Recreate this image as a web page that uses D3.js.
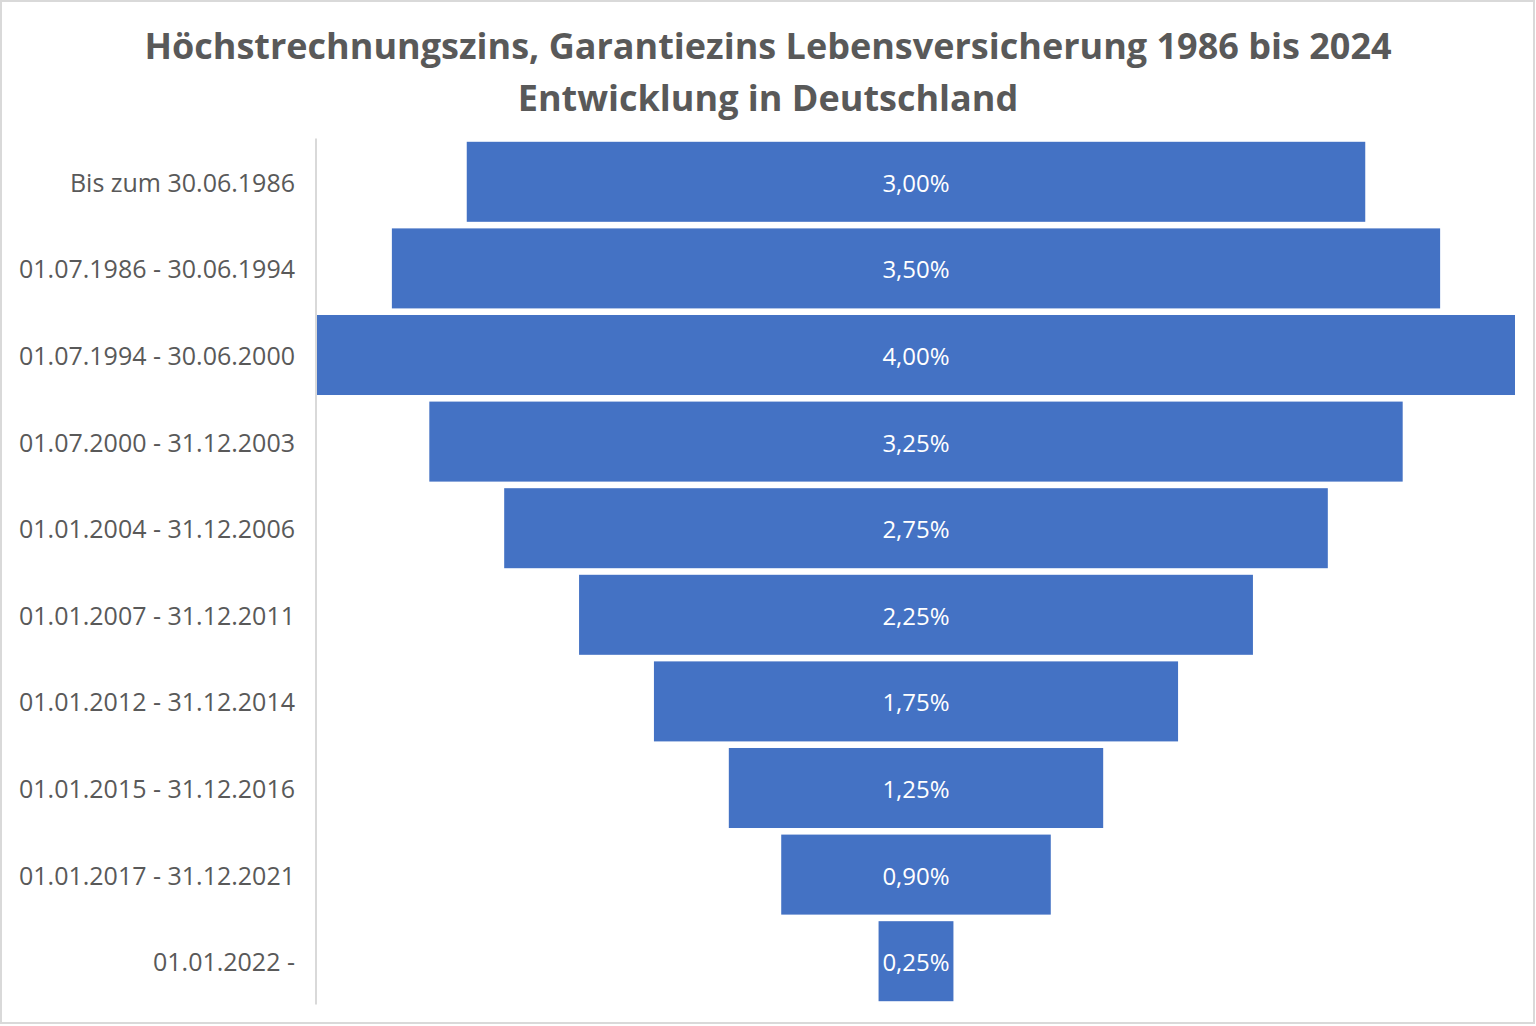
<!DOCTYPE html>
<html>
<head>
<meta charset="utf-8">
<script src="https://cdn.jsdelivr.net/npm/d3@7"></script>
<style>
  body { margin: 0; background: #fff; }
  text { font-family: "Open Sans", "Noto Sans", sans-serif; }
</style>
</head>
<body>
<div id="chart"></div>
<script>
const periods = [
  'Bis zum 30.06.1986',
  '01.07.1986 - 30.06.1994',
  '01.07.1994 - 30.06.2000',
  '01.07.2000 - 31.12.2003',
  '01.01.2004 - 31.12.2006',
  '01.01.2007 - 31.12.2011',
  '01.01.2012 - 31.12.2014',
  '01.01.2015 - 31.12.2016',
  '01.01.2017 - 31.12.2021',
  '01.01.2022 -'
];
const rates = [3.00, 3.50, 4.00, 3.25, 2.75, 2.25, 1.75, 1.25, 0.90, 0.25];
const titleLines = [
  'Höchstrechnungszins, Garantiezins Lebensversicherung 1986 bis 2024',
  'Entwicklung in Deutschland'
];

const W = 1536, H = 1026;
const plot = {left: 317, right: 1515, top: 138.5, bottom: 1004.5};

const svg = d3.select('#chart')
  .append('svg')
  .attr('width', W)
  .attr('height', H);

// outer frame
svg.append('rect')
  .attr('x', 1).attr('y', 1)
  .attr('width', W - 3).attr('height', H - 4)
  .attr('fill', '#fff')
  .attr('stroke', '#d9d9d9')
  .attr('stroke-width', 2);

const y = d3.scaleBand()
  .domain(periods)
  .range([plot.top, plot.bottom])
  .paddingInner(0.076)
  .paddingOuter(0.038);

const center = (plot.left + plot.right) / 2;
const w = d3.scaleLinear()
  .domain([0, d3.max(rates)])
  .range([0, plot.right - plot.left]);

const rows = periods.map((p, i) => ({period: p, rate: rates[i]}));

// funnel bars
svg.append('g')
  .selectAll('rect')
  .data(rows)
  .join('rect')
  .attr('x', d => center - w(d.rate) / 2)
  .attr('y', d => y(d.period))
  .attr('width', d => w(d.rate))
  .attr('height', y.bandwidth())
  .attr('fill', '#4472c4');

// value labels
const fmt = d => d.rate.toFixed(2).replace('.', ',') + '%';
svg.append('g')
  .selectAll('text')
  .data(rows)
  .join('text')
  .attr('x', center)
  .attr('y', d => y(d.period) + y.bandwidth() / 2)
  .attr('dy', '0.42em')
  .attr('text-anchor', 'middle')
  .attr('fill', '#fff')
  .style('font-size', '24px')
  .text(fmt);

// category axis
const axis = svg.append('g')
  .attr('transform', `translate(${plot.left - 1},0)`)
  .call(d3.axisLeft(y).tickSize(0).tickPadding(21));
axis.select('.domain')
  .attr('stroke', '#d9d9d9')
  .attr('stroke-width', 2)
  .attr('d', `M0,${plot.top}V${plot.bottom}`);
axis.selectAll('.tick text')
  .attr('fill', '#595959')
  .attr('dy', '0.4em')
  .style('font-size', '25px')
  .style('font-family', '"Open Sans", sans-serif');

// title
svg.append('g')
  .selectAll('text')
  .data(titleLines)
  .join('text')
  .attr('x', 768)
  .attr('y', (d, i) => 59 + i * 52)
  .attr('text-anchor', 'middle')
  .attr('fill', '#595959')
  .style('font-size', '36px')
  .style('font-weight', 'bold')
  .text(d => d);
</script>
</body>
</html>
